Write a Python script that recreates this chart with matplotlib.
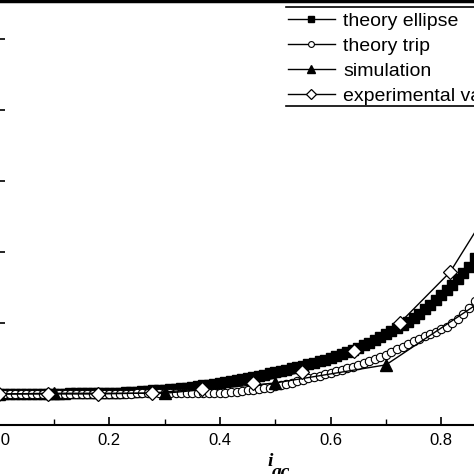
import numpy as np
import matplotlib
matplotlib.use("Agg")
import matplotlib.pyplot as plt
from matplotlib.lines import Line2D

plt.rcParams['font.family'] = ['Liberation Sans', 'DejaVu Sans']

# theory ellipse, step 0.01 from 0.00
ellipse_x = np.round(np.arange(0, 89) * 0.01, 2)
ellipse_y = [
    1.00, 1.00, 1.00, 1.00, 1.00, 1.00, 1.00, 1.00, 1.00, 1.00,
    1.00, 1.00, 1.00, 1.01, 1.01, 1.01, 1.01, 1.01, 1.01, 1.01,
    1.02, 1.02, 1.02, 1.03, 1.03, 1.03, 1.04, 1.04, 1.05, 1.05,
    1.06, 1.07, 1.07, 1.08, 1.09, 1.10, 1.11, 1.12, 1.13, 1.14,
    1.15, 1.17, 1.18, 1.19, 1.21, 1.22, 1.24, 1.25, 1.27, 1.29,
    1.31, 1.32, 1.34, 1.36, 1.38, 1.40, 1.42, 1.44, 1.46, 1.48,
    1.51, 1.53, 1.56, 1.59, 1.62, 1.65, 1.69, 1.72, 1.76, 1.80,
    1.84, 1.88, 1.93, 1.97, 2.02, 2.07, 2.13, 2.19, 2.25, 2.32,
    2.39, 2.46, 2.54, 2.62, 2.70, 2.79, 2.92, 3.04, 3.17,
]

# theory trip, step 0.01 from 0.00
trip_x = np.round(np.arange(0, 89) * 0.01, 2)
trip_y = [
    1.00, 1.00, 1.00, 1.00, 1.00, 1.00, 1.00, 1.00, 1.00, 1.00,
    1.00, 1.00, 1.00, 1.00, 1.00, 1.00, 1.00, 1.00, 1.00, 1.00,
    1.00, 1.00, 1.00, 1.00, 1.00, 1.01, 1.01, 1.01, 1.01, 1.01,
    1.01, 1.01, 1.01, 1.01, 1.01, 1.01, 1.01, 1.02, 1.02, 1.02,
    1.02, 1.02, 1.03, 1.03, 1.04, 1.05, 1.06, 1.07, 1.08, 1.09,
    1.11, 1.12, 1.14, 1.16, 1.18, 1.20, 1.22, 1.24, 1.26, 1.28,
    1.30, 1.32, 1.34, 1.36, 1.38, 1.41, 1.43, 1.46, 1.49, 1.52,
    1.55, 1.59, 1.63, 1.66, 1.70, 1.74, 1.77, 1.81, 1.84, 1.87,
    1.91, 1.95, 2.00, 2.06, 2.13, 2.21, 2.31, 2.42, 2.55,
]

sim_x = [0.0, 0.1, 0.3, 0.5, 0.7, 0.9]
sim_y = [1.00, 1.01, 1.01, 1.155, 1.41, 2.45]

exp_x = [0.0, 0.09, 0.18, 0.277, 0.368, 0.46, 0.548, 0.642, 0.725, 0.816, 0.908]
exp_y = [1.00, 1.00, 1.00, 1.014, 1.07, 1.155, 1.31, 1.606, 2.00, 2.718, 3.87]

x_ticks = [0.0, 0.2, 0.4, 0.6, 0.8, 1.0]
x_tick_labels = ['0.0', '0.2', '0.4', '0.6', '0.8', '1.0']

W = 474.0
fig = plt.figure(figsize=(4.74, 4.74), dpi=100)
ax = fig.add_axes([-1.5 / W, 49 / W, 553.5 / W, 424 / W])

ax.plot(ellipse_x, ellipse_y, '-', color='black', lw=1.0, marker='s',
        ms=7, mfc='black', mec='black', label='theory ellipse')
ax.plot(trip_x, trip_y, '-', color='black', lw=1.0, marker='o',
        ms=6, mfc='white', mec='black', mew=0.8, label='theory trip')
ax.plot(sim_x, sim_y, '-', color='black', lw=1.0, marker='^',
        ms=8, mfc='black', mec='black', label='simulation')
ax.plot(exp_x, exp_y, '-', color='black', lw=1.0, marker='D',
        ms=7.5, mfc='white', mec='black', mew=0.9, label='experimental value')

ax.set_xlim(0, 1.0)
ax.set_ylim(0.563, 6.535)
ax.set_xticks(x_ticks)
ax.set_xticklabels(x_tick_labels)
ax.set_xticks(np.arange(0.1, 1.0, 0.2), minor=True)
ax.set_yticks([1, 2, 3, 4, 5, 6])
ax.set_yticklabels([])
ax.tick_params(axis='x', which='major', direction='in', length=6, width=1.2,
               labelsize=12, pad=6)
ax.tick_params(axis='x', which='minor', direction='in', length=4, width=1.0)
ax.tick_params(axis='y', which='major', direction='in', length=4, width=1.2)
for s in ax.spines.values():
    s.set_linewidth(1.5)
ax.spines['top'].set_linewidth(2.5)

fig.text(267 / W, 8 / W, 'i', family='Liberation Serif', style='italic',
         weight='bold', fontsize=14, va='baseline', ha='left')
fig.text(272 / W, -3 / W, 'ac', family='Liberation Serif', style='italic',
         weight='bold', fontsize=14, va='baseline', ha='left')

leg = ax.legend(loc='upper left', bbox_to_anchor=(286 / W, 1 - 10 / W),
                bbox_transform=fig.transFigure, frameon=False, fontsize=14,
                numpoints=1, handlelength=2.4, handletextpad=0.45,
                labelspacing=0.38, borderaxespad=0, borderpad=0.1,
                markerscale=0.7)

# legend frame in the reference shows only its top and bottom rules
fig.canvas.draw()
bb = leg.get_window_extent().transformed(fig.transFigure.inverted())
pad = 3 / W
for yy in (bb.y0 + pad * 0.3, bb.y1 + pad):
    fig.add_artist(Line2D([bb.x0, 1.2], [yy, yy], color='black', lw=1.2,
                          transform=fig.transFigure))

fig.savefig('out.png', dpi=100)
